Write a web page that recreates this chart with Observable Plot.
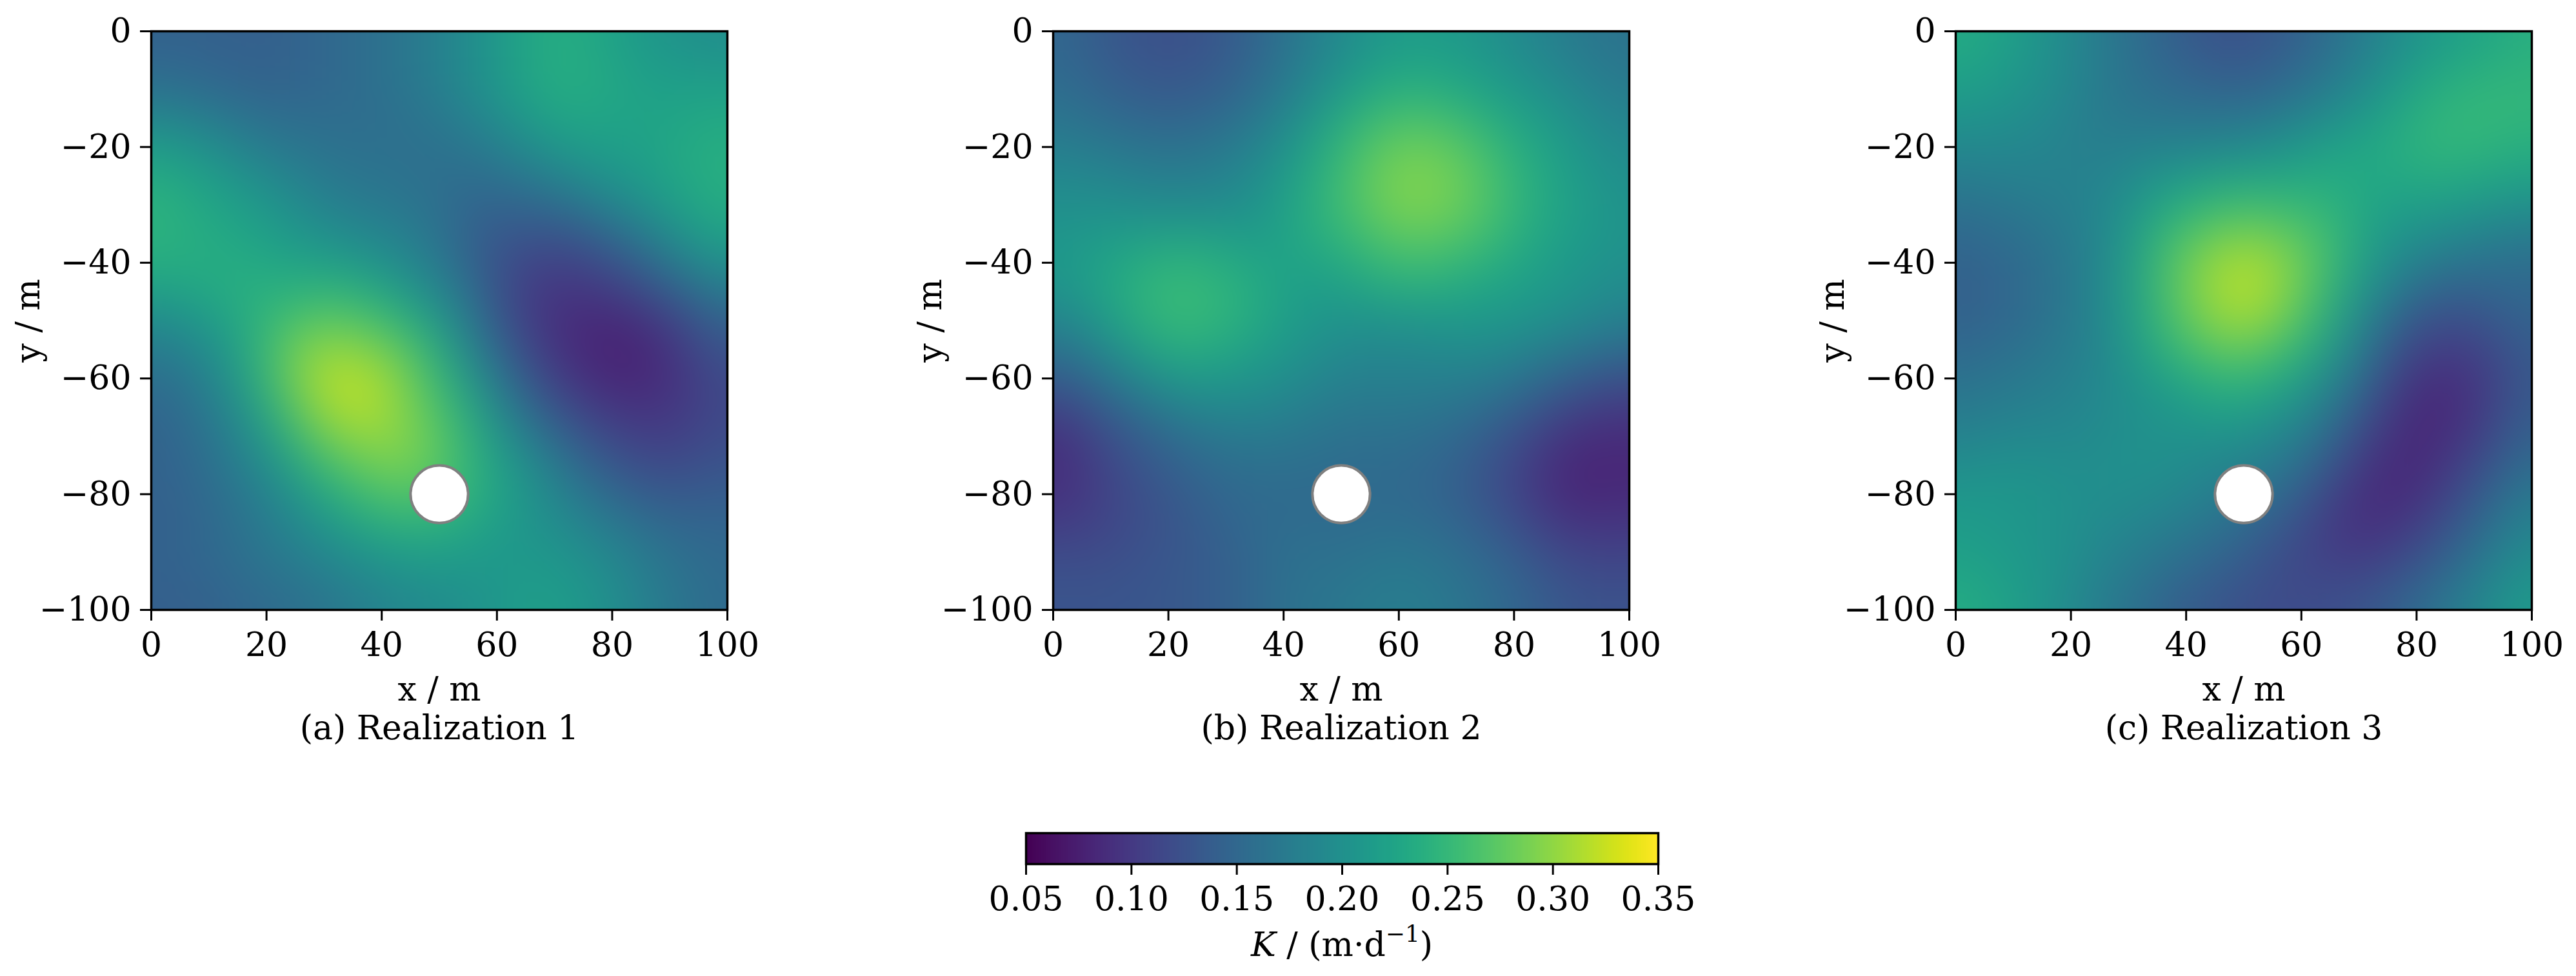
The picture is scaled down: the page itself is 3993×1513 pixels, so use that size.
<!DOCTYPE html>
<html><head><meta charset="utf-8">
<script src="https://cdn.jsdelivr.net/npm/d3@7"></script>
<script src="https://cdn.jsdelivr.net/npm/@observablehq/plot@0.6"></script>
<style>
html,body{margin:0;padding:0;background:#fff;}
#root{position:relative;width:3993px;height:1513px;overflow:hidden;font-family:"DejaVu Serif";color:#000;}
.abs{position:absolute;}
</style></head><body><div id="root"></div>
<script>
// grid node positions (m)
const gridX = [0, 10, 20, 30, 40, 50, 60, 70, 80, 90, 100];
const gridY = [0, -10, -20, -30, -40, -50, -60, -70, -80, -90, -100];

// K values read at the grid nodes; one row per gridY value, one column per gridX value
const realization1 = [
  [0.14, 0.14, 0.14, 0.15, 0.16, 0.18, 0.21, 0.24, 0.22, 0.20, 0.19],
  [0.16, 0.15, 0.14, 0.15, 0.16, 0.18, 0.21, 0.24, 0.23, 0.22, 0.22],
  [0.22, 0.20, 0.17, 0.16, 0.16, 0.16, 0.18, 0.21, 0.22, 0.23, 0.24],
  [0.25, 0.23, 0.21, 0.18, 0.17, 0.16, 0.14, 0.15, 0.19, 0.22, 0.24],
  [0.24, 0.24, 0.23, 0.22, 0.20, 0.17, 0.12, 0.10, 0.12, 0.17, 0.21],
  [0.19, 0.21, 0.25, 0.28, 0.26, 0.21, 0.13, 0.085, 0.075, 0.10, 0.15],
  [0.15, 0.18, 0.25, 0.33, 0.32, 0.25, 0.17, 0.10, 0.075, 0.085, 0.12],
  [0.14, 0.16, 0.21, 0.29, 0.31, 0.28, 0.21, 0.15, 0.11, 0.10, 0.12],
  [0.14, 0.15, 0.18, 0.23, 0.27, 0.27, 0.23, 0.19, 0.15, 0.13, 0.14],
  [0.14, 0.15, 0.17, 0.19, 0.21, 0.22, 0.21, 0.21, 0.19, 0.16, 0.15],
  [0.14, 0.14, 0.15, 0.16, 0.18, 0.19, 0.21, 0.22, 0.20, 0.17, 0.15]
];
const realization2 = [
  [0.15, 0.13, 0.12, 0.13, 0.16, 0.19, 0.21, 0.21, 0.19, 0.17, 0.16],
  [0.16, 0.14, 0.13, 0.14, 0.17, 0.21, 0.24, 0.23, 0.21, 0.19, 0.17],
  [0.18, 0.17, 0.16, 0.17, 0.20, 0.25, 0.29, 0.28, 0.24, 0.21, 0.19],
  [0.20, 0.20, 0.19, 0.19, 0.22, 0.26, 0.30, 0.29, 0.25, 0.22, 0.20],
  [0.21, 0.23, 0.25, 0.24, 0.22, 0.23, 0.26, 0.25, 0.23, 0.21, 0.20],
  [0.18, 0.22, 0.26, 0.25, 0.22, 0.20, 0.20, 0.21, 0.21, 0.20, 0.18],
  [0.13, 0.17, 0.21, 0.21, 0.20, 0.18, 0.18, 0.18, 0.17, 0.14, 0.12],
  [0.08, 0.12, 0.15, 0.17, 0.17, 0.16, 0.16, 0.15, 0.12, 0.085, 0.085],
  [0.085, 0.11, 0.13, 0.15, 0.15, 0.15, 0.15, 0.14, 0.11, 0.075, 0.085],
  [0.12, 0.12, 0.13, 0.14, 0.16, 0.16, 0.17, 0.16, 0.14, 0.11, 0.11],
  [0.13, 0.13, 0.13, 0.14, 0.16, 0.17, 0.18, 0.17, 0.15, 0.13, 0.13]
];
const realization3 = [
  [0.24, 0.22, 0.19, 0.16, 0.13, 0.12, 0.14, 0.17, 0.20, 0.22, 0.24],
  [0.22, 0.21, 0.19, 0.16, 0.15, 0.14, 0.16, 0.19, 0.23, 0.25, 0.25],
  [0.19, 0.19, 0.18, 0.18, 0.18, 0.19, 0.21, 0.23, 0.25, 0.25, 0.24],
  [0.16, 0.17, 0.18, 0.20, 0.24, 0.26, 0.25, 0.23, 0.22, 0.21, 0.20],
  [0.14, 0.15, 0.17, 0.21, 0.29, 0.33, 0.29, 0.22, 0.18, 0.16, 0.15],
  [0.14, 0.15, 0.17, 0.21, 0.28, 0.32, 0.27, 0.19, 0.12, 0.12, 0.15],
  [0.16, 0.17, 0.18, 0.20, 0.23, 0.25, 0.22, 0.16, 0.085, 0.09, 0.14],
  [0.18, 0.19, 0.19, 0.20, 0.20, 0.20, 0.18, 0.12, 0.075, 0.10, 0.15],
  [0.21, 0.21, 0.20, 0.20, 0.19, 0.17, 0.14, 0.085, 0.085, 0.13, 0.18],
  [0.22, 0.21, 0.20, 0.18, 0.16, 0.14, 0.11, 0.095, 0.12, 0.16, 0.20],
  [0.24, 0.22, 0.19, 0.16, 0.13, 0.12, 0.12, 0.13, 0.16, 0.19, 0.22]
];
const fields = [realization1, realization2, realization3];
const panelTitles = ["(a) Realization 1", "(b) Realization 2", "(c) Realization 3"];

const xTicks = [0, 20, 40, 60, 80, 100];
const xTickLabels = ["0", "20", "40", "60", "80", "100"];
const yTicks = [0, -20, -40, -60, -80, -100];
const yTickLabels = ["0", "\u221220", "\u221240", "\u221260", "\u221280", "\u2212100"];
const xLabel = "x / m";
const yLabel = "y / m";

const well = [{x: 50, y: -80}];
const wellRadius = 5; // m

const colorDomain = [0.05, 0.35];
const cbTicks = [0.05, 0.10, 0.15, 0.20, 0.25, 0.30, 0.35];
const cbTickLabels = ["0.05", "0.10", "0.15", "0.20", "0.25", "0.30", "0.35"];

// ---------- layout ----------
const root = document.getElementById("root");
const FONT = "DejaVu Serif";
const FS = 52;
const frameLefts = [234, 1632, 3031];
const plotW = 893, plotH = 897;
const mL = 234, mT = 48, mR = 31, mB = 225;

fields.forEach((field, p) => {
  const data = [];
  field.forEach((row, i) => row.forEach((k, j) => data.push({x: gridX[j], y: gridY[i], k})));
  const rPx = wellRadius * plotW / 100;
  const chart = Plot.plot({
    width: mL + plotW + mR,
    height: mT + plotH + mB,
    marginLeft: mL, marginRight: mR, marginTop: mT, marginBottom: mB,
    style: {fontFamily: FONT, fontSize: FS + "px", color: "#000", background: "transparent", overflow: "visible"},
    x: {domain: [0, 100]},
    y: {domain: [-100, 0]},
    color: {type: "linear", scheme: "viridis", domain: colorDomain, clamp: true},
    marks: [
      Plot.raster(data, {x: "x", y: "y", fill: "k", interpolate: "barycentric", pixelSize: 1, blur: 40}),
      Plot.dot(well, {x: "x", y: "y", r: rPx, fill: "white", stroke: "#808080", strokeWidth: 4}),
      Plot.frame({stroke: "#000", strokeWidth: 3.5}),
      Plot.axisX({ticks: xTicks, tickFormat: (d, i) => xTickLabels[i], tickSize: 17, tickPadding: 18, strokeWidth: 3,
        label: xLabel, labelAnchor: "center", labelArrow: "none", labelOffset: 140}),
      Plot.axisY({ticks: yTicks, tickFormat: (d, i) => yTickLabels[i], tickSize: 17, tickPadding: 14, strokeWidth: 3,
        label: yLabel, labelAnchor: "center", labelArrow: "none", labelOffset: 210}),
      Plot.text([panelTitles[p]], {text: d => d, frameAnchor: "bottom", lineAnchor: "bottom", dy: 200, fontSize: FS, fill: "#000"})
    ]
  });
  chart.classList.add("abs");
  chart.style.left = (frameLefts[p] - mL) + "px";
  chart.style.top = "0px";
  root.appendChild(chart);
});

// ---------- colorbar ----------
const cbL = 90, cbR = 90, cbT = 51, cbH = 48, cbW = 980;
const cb = Plot.plot({
  width: cbL + cbW + cbR,
  height: cbT + cbH + 90,
  marginLeft: cbL, marginRight: cbR, marginTop: cbT, marginBottom: 90,
  style: {fontFamily: FONT, fontSize: FS + "px", color: "#000", background: "transparent", overflow: "visible"},
  x: {domain: colorDomain},
  y: {domain: [0, 1], axis: null},
  color: {type: "linear", scheme: "viridis", domain: colorDomain},
  marks: [
    Plot.raster({fill: (x, y) => x, x1: colorDomain[0], x2: colorDomain[1], y1: 0, y2: 1, pixelSize: 1}),
    Plot.frame({stroke: "#000", strokeWidth: 3.5}),
    Plot.axisX({ticks: cbTicks, tickFormat: (d, i) => cbTickLabels[i], tickSize: 17, tickPadding: 18, strokeWidth: 3, label: null})
  ]
});
cb.classList.add("abs");
cb.style.left = (1590 - cbL) + "px";
cb.style.top = (1291 - cbT) + "px";
root.appendChild(cb);

const cbLabel = document.createElement("div");
cbLabel.className = "abs";
cbLabel.style.cssText = `left:${1590}px;width:${cbW}px;top:1438px;text-align:center;font-family:'${FONT}';font-size:${FS}px;line-height:${FS}px;`;
cbLabel.innerHTML = `<i>K</i> / (m·d<sup style="font-size:36px;line-height:0;vertical-align:0.6em">\u22121</sup>)`;
root.appendChild(cbLabel);
</script>
</body></html>
